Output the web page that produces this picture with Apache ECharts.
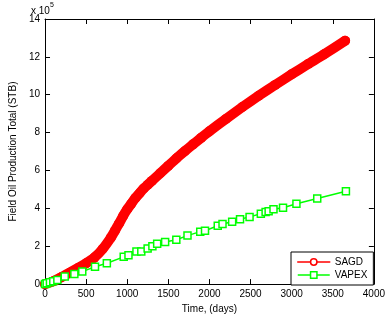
<!DOCTYPE html>
<html>
<head>
<meta charset="utf-8">
<script src="https://cdn.jsdelivr.net/npm/echarts@6/dist/echarts.min.js"></script>
<style>
  html, body { margin: 0; padding: 0; background: #fff; }
  #chart { width: 388px; height: 319px; }
</style>
</head>
<body>
<div id="chart"></div>
<script>
// time in days, production in 10^5 STB
var sagdDays = [0, 100, 200, 300, 400, 500, 600, 700, 800, 850, 900, 950, 1000, 1050, 1100, 1150, 1200, 1250, 1300, 1400, 1500, 1600, 1700, 1800, 1900, 2000, 2200, 2400, 2600, 2800, 3000, 3200, 3400, 3650];
var sagdProd = [0, 0.15, 0.37, 0.6, 0.85, 1.1, 1.4, 1.85, 2.45, 2.82, 3.2, 3.6, 3.95, 4.25, 4.55, 4.8, 5.05, 5.25, 5.45, 5.85, 6.25, 6.65, 7.02, 7.38, 7.73, 8.07, 8.72, 9.35, 9.95, 10.52, 11.08, 11.62, 12.15, 12.85];

var vapexDays = [0, 20, 60, 100, 150, 240, 357, 453, 608, 752, 957, 1015, 1112, 1171, 1248, 1306, 1364, 1461, 1597, 1733, 1888, 1946, 2101, 2159, 2276, 2372, 2488, 2625, 2683, 2720, 2779, 2895, 3058, 3311, 3660];
var vapexProd = [0, 0.05, 0.1, 0.15, 0.22, 0.4, 0.53, 0.66, 0.92, 1.1, 1.44, 1.53, 1.72, 1.72, 1.88, 2.0, 2.13, 2.22, 2.34, 2.56, 2.77, 2.82, 3.08, 3.17, 3.29, 3.43, 3.55, 3.72, 3.81, 3.85, 3.95, 4.03, 4.24, 4.52, 4.9];

var xTicks = [0, 500, 1000, 1500, 2000, 2500, 3000, 3500, 4000];
var yTicks = [0, 2, 4, 6, 8, 10, 12, 14];

function pairs(xs, ys) {
    return xs.map(function (x, i) { return [x, ys[i]]; });
}

var font = 'Liberation Sans, Arial, sans-serif';

var tickAxis = function (pos, isX, show) {
    var ticks = isX ? xTicks : yTicks;
    return {
        type: 'value',
        position: pos,
        min: ticks[0],
        max: ticks[ticks.length - 1],
        interval: ticks[1] - ticks[0],
        axisLine: { show: true, onZero: false, lineStyle: { color: '#000', width: 1 } },
        axisTick: { show: true, inside: true, length: 5, lineStyle: { color: '#000' } },
        axisLabel: {
            show: show, color: '#000', fontFamily: font, fontSize: 10, margin: 5,
            formatter: function (v) { return String(v); }
        },
        splitLine: { show: false }
    };
};

var xBottom = tickAxis('bottom', true, true);
xBottom.name = 'Time, (days)';
xBottom.nameLocation = 'middle';
xBottom.nameGap = 18;
xBottom.nameTextStyle = { color: '#000', fontFamily: font, fontSize: 10 };

var yLeft = tickAxis('left', false, true);
yLeft.name = 'Field Oil Production Total (STB)';
yLeft.nameLocation = 'middle';
yLeft.nameGap = 22;
yLeft.nameTextStyle = { color: '#000', fontFamily: font, fontSize: 10 };

var option = {
    backgroundColor: '#fff',
    animation: false,
    grid: { left: 31, right: 13, top: 19, bottom: 30, containLabel: false },
    xAxis: [xBottom, tickAxis('top', true, false)],
    yAxis: [yLeft, tickAxis('right', false, false)],
    legend: {
        orient: 'vertical',
        left: 291,
        top: 252,
        width: 81,
        padding: [5, 6, 5, 6],
        itemGap: 3,
        itemWidth: 32,
        itemHeight: 8,
        borderColor: '#000',
        borderWidth: 1,
        backgroundColor: '#fff',
        textStyle: { color: '#000', fontFamily: font, fontSize: 10 },
        data: [
            { name: 'SAGD', lineStyle: { width: 1.5 }, itemStyle: { color: '#fff', borderColor: '#f00', borderWidth: 1.5 } },
            { name: 'VAPEX', lineStyle: { width: 1.5 }, itemStyle: { color: '#fff', borderColor: '#0f0', borderWidth: 1.5 } }
        ]
    },
    graphic: [{
        type: 'text',
        left: 31,
        top: 2,
        style: {
            text: '{a|x 10}{b|5}',
            rich: {
                a: { fontFamily: font, fontSize: 10, fill: '#000', padding: [4, 0, 0, 0] },
                b: { fontFamily: font, fontSize: 7, fill: '#000', verticalAlign: 'top' }
            }
        }
    }],
    series: [{
        name: 'SAGD',
        type: 'line',
        data: pairs(sagdDays, sagdProd),
        smooth: 0.2,
        symbol: 'circle',
        symbolSize: 10,
        showSymbol: true,
        itemStyle: { color: '#f00' },
        lineStyle: { color: '#f00', width: 10, cap: 'round', join: 'round' }
    }, {
        name: 'VAPEX',
        type: 'line',
        data: pairs(vapexDays, vapexProd),
        symbol: 'rect',
        symbolSize: 7,
        showSymbol: true,
        itemStyle: { color: '#fff', borderColor: '#0f0', borderWidth: 1.5 },
        lineStyle: { color: '#0f0', width: 1.5 }
    }]
};

var myChart = echarts.init(document.getElementById('chart'));
myChart.setOption(option);
</script>
</body>
</html>
